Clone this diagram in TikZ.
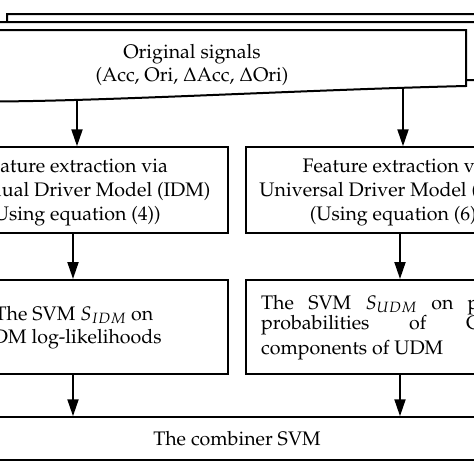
\documentclass[tikz,border=0pt]{standalone}
\usepackage[T1]{fontenc}
\usepackage{mathpazo}
\usetikzlibrary{arrows.meta}
\newcommand\ff{\fontsize{19.6}{24}\selectfont}
\begin{document}
\begin{tikzpicture}[x=1pt,y=-1pt,
  line/.style={line width=2pt, draw=black, line join=miter},
  doc/.style={line, fill=white},
  box/.style={line, fill=white, inner sep=0pt},
  arr/.style={line width=2pt, -{Triangle[length=17pt,width=11pt]}},
  txt/.style={font=\ff, inner sep=0pt, anchor=base},
  txl/.style={txt, anchor=base west}]
\useasboundingbox (0,0) rectangle (474,474);
\clip (0,0) rectangle (474,474);
\fill[white] (0,0) rectangle (474,474);
% stacked document shape
\draw[doc] (7,14) -- (490,14) -- (490,70) .. controls (324,74) and (124,85.5) .. (7,85.5) -- cycle;
\draw[doc] (-3,22) -- (476,22) -- (476,80) .. controls (310,84) and (110,93.5) .. (-3,93.5) -- cycle;
\draw[doc] (-13,30) -- (466,30) -- (466,86) .. controls (300,90) and (100,101.5) .. (-13,101.5) -- cycle;
\node[txt] (o1) at (192,58.3) {Original signals};
\node[txt] (o2) at (192,81.7) {(Acc, Ori, $\Delta$Acc, $\Delta$Ori)};
\coordinate (c1) at (77,100);
\coordinate (c2) at (403,87.5);
% row 1
\node[box, minimum width=307pt, minimum height=86pt] (fl) at (74,190.3) {};
\node[box, minimum width=302pt, minimum height=86pt] (fr) at (396.5,190.3) {};
\node[txt] (fl1) at (74,172.7) {Feature extraction via};
\node[txt] (fl2) at (74,196.7) {Individual Driver Model (IDM)};
\node[txt] (fl3) at (74,220.7) {(Using equation (4))};
\node[txt] (fr1) at (396.5,172.7) {Feature extraction via};
\node[txt] (fr2) at (396.5,196.7) {Universal Driver Model (UDM)};
\node[txt] (fr3) at (396.5,220.7) {(Using equation (6))};
% row 2
\node[box, minimum width=307pt, minimum height=94pt] (sl) at (74,327) {};
\node[box, minimum width=316pt, minimum height=94pt] (sr) at (403.5,327) {};
\node[txt] (sl1) at (74,320) {The SVM $S_{IDM}$ on};
\node[txt] (sl2) at (74,343.3) {IDM log-likelihoods};
\node[txl] (sr1) at (261,309) {\hbox to 285pt{The\hfill SVM\hfill $S_{UDM}$\hfill on\hfill posterior}};
\node[txl] (sr2) at (261,329.5) {\hbox to 285pt{probabilities\hfill of\hfill Gaussian}};
\node[txl] (sr3) at (261,354) {components of UDM};
% combiner
\node[box, minimum width=520pt, minimum height=42.7pt] (comb) at (237,438.6) {};
\node[txt] (cb) at (237,445) {The combiner SVM};
% connectors
\draw[arr] (c1) -- (fl.north -| c1);
\draw[arr] (c2) -- (fr.north -| c2);
\draw[arr] (fl.south -| 73,0) -- (sl.north -| 73,0);
\draw[arr] (fr.south -| 400,0) -- (sr.north -| 400,0);
\draw[arr] (sl.south -| 73,0) -- (comb.north -| 73,0);
\draw[arr] (sr.south -| 400,0) -- (comb.north -| 400,0);
\end{tikzpicture}
\end{document}
